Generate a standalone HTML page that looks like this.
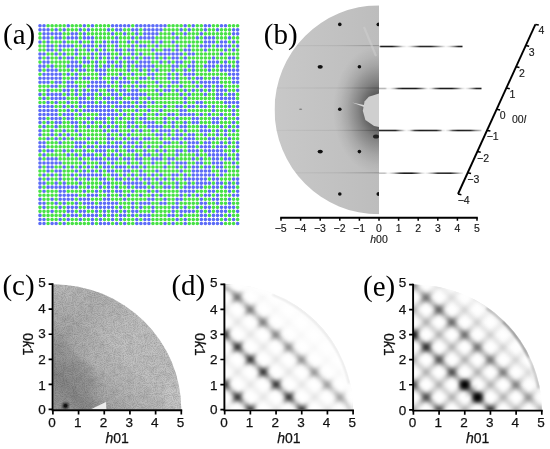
<!DOCTYPE html>
<html><head><meta charset="utf-8"><title>Figure</title>
<style>html,body{margin:0;padding:0;background:#fff;}body{width:550px;height:449px;position:relative;overflow:hidden;}</style>
</head><body>
<svg width="550" height="449" viewBox="0 0 550 449" style="position:absolute;left:0;top:0">
<defs><filter id="blur3" x="-20%" y="-20%" width="140%" height="140%"><feGaussianBlur stdDeviation="2.6"/></filter><filter id="rbl" x="-20%" y="-20%" width="140%" height="140%"><feGaussianBlur stdDeviation="0.8"/></filter><filter id="dblur" x="-2%" y="-2%" width="104%" height="104%"><feGaussianBlur stdDeviation="0.45"/></filter><filter id="nblur" x="-20%" y="-20%" width="140%" height="140%"><feGaussianBlur stdDeviation="2.3"/></filter>
<clipPath id="qc"><path d="M53.4 409.4 V284.15 A128.4 125.25 0 0 1 181.3 409.4 Z"/></clipPath>
<clipPath id="qd"><path d="M225.2 409.6 V284.35 A128.4 125.25 0 0 1 353.1 409.6 Z"/></clipPath>
<clipPath id="qe"><path d="M413.9 409.8 V284.55 A128.4 125.25 0 0 1 541.8 409.8 Z"/></clipPath>
</defs>
<g filter="url(#dblur)"><path d="M39.99 25.8h.01m4.02 0h.01m24.19 0h.01m16.13 0h.01m8.06 0h.01m20.16 0h.01m4.02 0h.01m4.02 0h.01m4.02 0h.01m4.02 0h.01m8.06 0h.01m4.02 0h.01m4.02 0h.01m4.02 0h.01m4.02 0h.01m4.02 0h.01m4.02 0h.01m4.02 0h.01m20.16 0h.01m8.06 0h.01m12.09 0h.01m4.02 0h.01m12.09 0h.01m4.02 0h.01M39.99 29.83h.01m4.02 0h.01m4.02 0h.01m8.06 0h.01m8.06 0h.01m16.13 0h.01m8.06 0h.01m20.16 0h.01m8.06 0h.01m4.02 0h.01m12.09 0h.01m4.02 0h.01m8.06 0h.01m4.02 0h.01m4.02 0h.01m4.02 0h.01m4.02 0h.01m20.16 0h.01m8.06 0h.01m16.13 0h.01m12.09 0h.01m16.13 0h.01m4.02 0h.01M44.03 33.87h.01m4.02 0h.01m4.02 0h.01m4.02 0h.01m4.02 0h.01m12.09 0h.01m4.02 0h.01m8.06 0h.01m28.23 0h.01m12.09 0h.01m12.09 0h.01m8.06 0h.01m4.02 0h.01m4.02 0h.01m4.02 0h.01m16.13 0h.01m12.09 0h.01m16.13 0h.01m32.26 0h.01m4.02 0h.01M44.03 37.9h.01m4.02 0h.01m8.06 0h.01m4.02 0h.01m8.06 0h.01m4.02 0h.01m4.02 0h.01m8.06 0h.01m4.02 0h.01m4.02 0h.01m24.19 0h.01m16.13 0h.01m8.06 0h.01m4.02 0h.01m4.02 0h.01m4.02 0h.01m24.19 0h.01m20.16 0h.01m8.06 0h.01m4.02 0h.01m4.02 0h.01m16.13 0h.01M39.99 41.94h.01m8.06 0h.01m16.13 0h.01m16.13 0h.01m12.09 0h.01m12.09 0h.01m8.06 0h.01m4.02 0h.01m12.09 0h.01m8.06 0h.01m16.13 0h.01m8.06 0h.01m12.09 0h.01m32.26 0h.01m4.02 0h.01m4.02 0h.01m8.06 0h.01m4.02 0h.01m8.06 0h.01M48.06 45.97h.01m4.02 0h.01m8.06 0h.01m4.02 0h.01m4.02 0h.01m4.02 0h.01m12.09 0h.01m4.02 0h.01m4.02 0h.01m8.06 0h.01m4.02 0h.01m12.09 0h.01m16.13 0h.01m8.06 0h.01m4.02 0h.01m12.09 0h.01m20.16 0h.01m12.09 0h.01m12.09 0h.01m4.02 0h.01m4.02 0h.01m8.06 0h.01m4.02 0h.01m4.02 0h.01m4.02 0h.01m8.06 0h.01M48.06 50h.01m4.02 0h.01m8.06 0h.01m16.13 0h.01m12.09 0h.01m8.06 0h.01m8.06 0h.01m12.09 0h.01m4.02 0h.01m8.06 0h.01m4.02 0h.01m20.16 0h.01m12.09 0h.01m4.02 0h.01m8.06 0h.01m8.06 0h.01m4.02 0h.01m16.13 0h.01m20.16 0h.01m8.06 0h.01M39.99 54.04h.01m4.02 0h.01m12.09 0h.01m8.06 0h.01m12.09 0h.01m16.13 0h.01m8.06 0h.01m4.02 0h.01m4.02 0h.01m12.09 0h.01m12.09 0h.01m8.06 0h.01m16.13 0h.01m4.02 0h.01m4.02 0h.01m4.02 0h.01m4.02 0h.01m4.02 0h.01m4.02 0h.01m8.06 0h.01m4.02 0h.01m28.23 0h.01M39.99 58.07h.01m8.06 0h.01m12.09 0h.01m8.06 0h.01m4.02 0h.01m12.09 0h.01m8.06 0h.01m8.06 0h.01m8.06 0h.01m8.06 0h.01m8.06 0h.01m4.02 0h.01m8.06 0h.01m8.06 0h.01m4.02 0h.01m8.06 0h.01m8.06 0h.01m8.06 0h.01m4.02 0h.01m8.06 0h.01m28.23 0h.01m16.13 0h.01m4.02 0h.01M44.03 62.11h.01m4.02 0h.01m24.19 0h.01m4.02 0h.01m8.06 0h.01m4.02 0h.01m8.06 0h.01m12.09 0h.01m4.02 0h.01m8.06 0h.01m8.06 0h.01m4.02 0h.01m8.06 0h.01m4.02 0h.01m4.02 0h.01m12.09 0h.01m8.06 0h.01m8.06 0h.01m4.02 0h.01m12.09 0h.01m16.13 0h.01m4.02 0h.01m4.02 0h.01m8.06 0h.01m12.09 0h.01M39.99 66.14h.01m4.02 0h.01m8.06 0h.01m16.13 0h.01m4.02 0h.01m4.02 0h.01m4.02 0h.01m16.13 0h.01m8.06 0h.01m4.02 0h.01m8.06 0h.01m4.02 0h.01m8.06 0h.01m8.06 0h.01m4.02 0h.01m4.02 0h.01m4.02 0h.01m4.02 0h.01m20.16 0h.01m4.02 0h.01m12.09 0h.01m4.02 0h.01m12.09 0h.01m4.02 0h.01m4.02 0h.01m8.06 0h.01m4.02 0h.01m4.02 0h.01m8.06 0h.01M39.99 70.17h.01m8.06 0h.01m4.02 0h.01m4.02 0h.01m16.13 0h.01m8.06 0h.01m4.02 0h.01m12.09 0h.01m4.02 0h.01m4.02 0h.01m24.19 0h.01m12.09 0h.01m8.06 0h.01m8.06 0h.01m16.13 0h.01m12.09 0h.01m8.06 0h.01m16.13 0h.01m12.09 0h.01m4.02 0h.01m4.02 0h.01m4.02 0h.01m4.02 0h.01M44.03 74.21h.01m4.02 0h.01m4.02 0h.01m4.02 0h.01m4.02 0h.01m8.06 0h.01m8.06 0h.01m24.19 0h.01m4.02 0h.01m16.13 0h.01m12.09 0h.01m16.13 0h.01m4.02 0h.01m16.13 0h.01m8.06 0h.01m8.06 0h.01m4.02 0h.01m4.02 0h.01m36.3 0h.01m4.02 0h.01m4.02 0h.01M39.99 78.24h.01m4.02 0h.01m4.02 0h.01m4.02 0h.01m4.02 0h.01m4.02 0h.01m12.09 0h.01m4.02 0h.01m8.06 0h.01m4.02 0h.01m12.09 0h.01m12.09 0h.01m4.02 0h.01m8.06 0h.01m16.13 0h.01m4.02 0h.01m8.06 0h.01m16.13 0h.01m8.06 0h.01m12.09 0h.01m8.06 0h.01m4.02 0h.01m12.09 0h.01m4.02 0h.01m16.13 0h.01m4.02 0h.01M39.99 82.28h.01m4.02 0h.01m4.02 0h.01m8.06 0h.01m4.02 0h.01m8.06 0h.01m4.02 0h.01m20.16 0h.01m4.02 0h.01m4.02 0h.01m4.02 0h.01m8.06 0h.01m8.06 0h.01m4.02 0h.01m4.02 0h.01m8.06 0h.01m20.16 0h.01m16.13 0h.01m4.02 0h.01m16.13 0h.01m8.06 0h.01m4.02 0h.01m4.02 0h.01m4.02 0h.01m4.02 0h.01m16.13 0h.01m4.02 0h.01M52.1 86.31h.01m4.02 0h.01m12.09 0h.01m4.02 0h.01m4.02 0h.01m12.09 0h.01m4.02 0h.01m4.02 0h.01m4.02 0h.01m4.02 0h.01m4.02 0h.01m12.09 0h.01m12.09 0h.01m8.06 0h.01m4.02 0h.01m16.13 0h.01m8.06 0h.01m12.09 0h.01m16.13 0h.01m8.06 0h.01m4.02 0h.01m8.06 0h.01m4.02 0h.01M48.06 90.34h.01m16.13 0h.01m4.02 0h.01m8.06 0h.01m8.06 0h.01m8.06 0h.01m4.02 0h.01m12.09 0h.01m4.02 0h.01m8.06 0h.01m4.02 0h.01m8.06 0h.01m4.02 0h.01m20.16 0h.01m8.06 0h.01m4.02 0h.01m8.06 0h.01m8.06 0h.01m8.06 0h.01m8.06 0h.01m8.06 0h.01m8.06 0h.01m4.02 0h.01m4.02 0h.01m12.09 0h.01M39.99 94.38h.01m8.06 0h.01m4.02 0h.01m4.02 0h.01m4.02 0h.01m8.06 0h.01m8.06 0h.01m8.06 0h.01m4.02 0h.01m4.02 0h.01m8.06 0h.01m12.09 0h.01m4.02 0h.01m8.06 0h.01m4.02 0h.01m4.02 0h.01m4.02 0h.01m4.02 0h.01m4.02 0h.01m16.13 0h.01m20.16 0h.01m8.06 0h.01m16.13 0h.01m12.09 0h.01m4.02 0h.01m8.06 0h.01m4.02 0h.01M44.03 98.41h.01m8.06 0h.01m4.02 0h.01m4.02 0h.01m4.02 0h.01m16.13 0h.01m4.02 0h.01m8.06 0h.01m12.09 0h.01m4.02 0h.01m8.06 0h.01m4.02 0h.01m12.09 0h.01m4.02 0h.01m12.09 0h.01m36.3 0h.01m32.26 0h.01m4.02 0h.01m4.02 0h.01m4.02 0h.01m4.02 0h.01M48.06 102.45h.01m8.06 0h.01m12.09 0h.01m12.09 0h.01m4.02 0h.01m4.02 0h.01m4.02 0h.01m8.06 0h.01m8.06 0h.01m4.02 0h.01m4.02 0h.01m8.06 0h.01m4.02 0h.01m8.06 0h.01m8.06 0h.01m8.06 0h.01m32.26 0h.01m12.09 0h.01m4.02 0h.01m24.19 0h.01m4.02 0h.01m4.02 0h.01m4.02 0h.01M39.99 106.48h.01m4.02 0h.01m4.02 0h.01m4.02 0h.01m12.09 0h.01m8.06 0h.01m8.06 0h.01m8.06 0h.01m4.02 0h.01m4.02 0h.01m4.02 0h.01m4.02 0h.01m4.02 0h.01m8.06 0h.01m4.02 0h.01m4.02 0h.01m4.02 0h.01m4.02 0h.01m8.06 0h.01m4.02 0h.01m20.16 0h.01m12.09 0h.01m4.02 0h.01m8.06 0h.01m4.02 0h.01m8.06 0h.01m4.02 0h.01m8.06 0h.01m16.13 0h.01m8.06 0h.01M39.99 110.51h.01m4.02 0h.01m4.02 0h.01m4.02 0h.01m4.02 0h.01m12.09 0h.01m8.06 0h.01m8.06 0h.01m4.02 0h.01m4.02 0h.01m4.02 0h.01m4.02 0h.01m4.02 0h.01m4.02 0h.01m4.02 0h.01m8.06 0h.01m16.13 0h.01m12.09 0h.01m12.09 0h.01m20.16 0h.01m4.02 0h.01m28.23 0h.01m20.16 0h.01M39.99 114.55h.01m4.02 0h.01m4.02 0h.01m4.02 0h.01m4.02 0h.01m8.06 0h.01m4.02 0h.01m4.02 0h.01m8.06 0h.01m20.16 0h.01m4.02 0h.01m4.02 0h.01m4.02 0h.01m4.02 0h.01m8.06 0h.01m8.06 0h.01m12.09 0h.01m12.09 0h.01m12.09 0h.01m4.02 0h.01m8.06 0h.01m4.02 0h.01m4.02 0h.01m4.02 0h.01m8.06 0h.01m8.06 0h.01m12.09 0h.01m12.09 0h.01M39.99 118.58h.01m4.02 0h.01m8.06 0h.01m4.02 0h.01m4.02 0h.01m8.06 0h.01m4.02 0h.01m16.13 0h.01m8.06 0h.01m4.02 0h.01m4.02 0h.01m8.06 0h.01m8.06 0h.01m12.09 0h.01m8.06 0h.01m4.02 0h.01m20.16 0h.01m12.09 0h.01m16.13 0h.01m4.02 0h.01m16.13 0h.01m4.02 0h.01m8.06 0h.01m12.09 0h.01M39.99 122.62h.01m8.06 0h.01m8.06 0h.01m4.02 0h.01m12.09 0h.01m4.02 0h.01m8.06 0h.01m8.06 0h.01m12.09 0h.01m8.06 0h.01m16.13 0h.01m4.02 0h.01m12.09 0h.01m4.02 0h.01m4.02 0h.01m12.09 0h.01m8.06 0h.01m12.09 0h.01m8.06 0h.01m4.02 0h.01m16.13 0h.01m4.02 0h.01m16.13 0h.01M44.03 126.65h.01m12.09 0h.01m20.16 0h.01m12.09 0h.01m12.09 0h.01m8.06 0h.01m8.06 0h.01m12.09 0h.01m8.06 0h.01m12.09 0h.01m4.02 0h.01m4.02 0h.01m4.02 0h.01m12.09 0h.01m8.06 0h.01m4.02 0h.01m16.13 0h.01m4.02 0h.01m16.13 0h.01m8.06 0h.01m8.06 0h.01M39.99 130.68h.01m12.09 0h.01m12.09 0h.01m12.09 0h.01m28.23 0h.01m8.06 0h.01m4.02 0h.01m16.13 0h.01m8.06 0h.01m12.09 0h.01m8.06 0h.01m4.02 0h.01m4.02 0h.01m8.06 0h.01m8.06 0h.01m16.13 0h.01m4.02 0h.01m4.02 0h.01m8.06 0h.01m8.06 0h.01m8.06 0h.01M39.99 134.72h.01m12.09 0h.01m8.06 0h.01m8.06 0h.01m12.09 0h.01m28.23 0h.01m12.09 0h.01m8.06 0h.01m28.23 0h.01m4.02 0h.01m8.06 0h.01m8.06 0h.01m4.02 0h.01m8.06 0h.01m4.02 0h.01m12.09 0h.01m12.09 0h.01m8.06 0h.01M48.06 138.75h.01m8.06 0h.01m8.06 0h.01m8.06 0h.01m16.13 0h.01m20.16 0h.01m4.02 0h.01m12.09 0h.01m8.06 0h.01m4.02 0h.01m8.06 0h.01m4.02 0h.01m12.09 0h.01m12.09 0h.01m4.02 0h.01m8.06 0h.01m4.02 0h.01m4.02 0h.01m16.13 0h.01m4.02 0h.01m16.13 0h.01M39.99 142.79h.01m4.02 0h.01m16.13 0h.01m16.13 0h.01m4.02 0h.01m4.02 0h.01m12.09 0h.01m12.09 0h.01m8.06 0h.01m4.02 0h.01m8.06 0h.01m4.02 0h.01m8.06 0h.01m24.19 0h.01m4.02 0h.01m12.09 0h.01m8.06 0h.01m4.02 0h.01m4.02 0h.01m8.06 0h.01m4.02 0h.01m12.09 0h.01m8.06 0h.01m8.06 0h.01M39.99 146.82h.01m4.02 0h.01m32.26 0h.01m4.02 0h.01m8.06 0h.01m4.02 0h.01m8.06 0h.01m4.02 0h.01m4.02 0h.01m4.02 0h.01m4.02 0h.01m8.06 0h.01m4.02 0h.01m8.06 0h.01m4.02 0h.01m8.06 0h.01m12.09 0h.01m28.23 0h.01m4.02 0h.01m8.06 0h.01m4.02 0h.01m4.02 0h.01m8.06 0h.01m4.02 0h.01m4.02 0h.01m12.09 0h.01M39.99 150.85h.01m8.06 0h.01m4.02 0h.01m12.09 0h.01m8.06 0h.01m12.09 0h.01m12.09 0h.01m4.02 0h.01m4.02 0h.01m12.09 0h.01m12.09 0h.01m4.02 0h.01m12.09 0h.01m12.09 0h.01m8.06 0h.01m12.09 0h.01m4.02 0h.01m8.06 0h.01m4.02 0h.01m4.02 0h.01m8.06 0h.01m4.02 0h.01m4.02 0h.01m4.02 0h.01m4.02 0h.01m12.09 0h.01M44.03 154.89h.01m24.19 0h.01m8.06 0h.01m8.06 0h.01m4.02 0h.01m4.02 0h.01m12.09 0h.01m8.06 0h.01m8.06 0h.01m16.13 0h.01m8.06 0h.01m4.02 0h.01m12.09 0h.01m16.13 0h.01m20.16 0h.01m12.09 0h.01m4.02 0h.01m4.02 0h.01m4.02 0h.01m4.02 0h.01m12.09 0h.01M39.99 158.92h.01m8.06 0h.01m4.02 0h.01m4.02 0h.01m24.19 0h.01m12.09 0h.01m4.02 0h.01m4.02 0h.01m8.06 0h.01m4.02 0h.01m4.02 0h.01m8.06 0h.01m4.02 0h.01m8.06 0h.01m4.02 0h.01m12.09 0h.01m4.02 0h.01m4.02 0h.01m8.06 0h.01m4.02 0h.01m20.16 0h.01m8.06 0h.01m12.09 0h.01m4.02 0h.01m8.06 0h.01m4.02 0h.01m8.06 0h.01M39.99 162.96h.01m4.02 0h.01m4.02 0h.01m4.02 0h.01m4.02 0h.01m4.02 0h.01m24.19 0h.01m16.13 0h.01m4.02 0h.01m8.06 0h.01m16.13 0h.01m12.09 0h.01m12.09 0h.01m16.13 0h.01m8.06 0h.01m4.02 0h.01m4.02 0h.01m12.09 0h.01m4.02 0h.01m12.09 0h.01m4.02 0h.01m4.02 0h.01m12.09 0h.01M39.99 166.99h.01m8.06 0h.01m4.02 0h.01m12.09 0h.01m8.06 0h.01m8.06 0h.01m8.06 0h.01m8.06 0h.01m8.06 0h.01m4.02 0h.01m8.06 0h.01m4.02 0h.01m4.02 0h.01m8.06 0h.01m4.02 0h.01m8.06 0h.01m20.16 0h.01m12.09 0h.01m8.06 0h.01m8.06 0h.01m4.02 0h.01m8.06 0h.01m4.02 0h.01m8.06 0h.01m4.02 0h.01m16.13 0h.01M48.06 171.02h.01m8.06 0h.01m4.02 0h.01m16.13 0h.01m8.06 0h.01m8.06 0h.01m8.06 0h.01m8.06 0h.01m4.02 0h.01m12.09 0h.01m4.02 0h.01m12.09 0h.01m16.13 0h.01m24.19 0h.01m12.09 0h.01m4.02 0h.01m4.02 0h.01m4.02 0h.01m4.02 0h.01m12.09 0h.01m4.02 0h.01M44.03 175.06h.01m8.06 0h.01m8.06 0h.01m12.09 0h.01m8.06 0h.01m4.02 0h.01m4.02 0h.01m4.02 0h.01m4.02 0h.01m4.02 0h.01m12.09 0h.01m4.02 0h.01m8.06 0h.01m8.06 0h.01m8.06 0h.01m4.02 0h.01m8.06 0h.01m8.06 0h.01m12.09 0h.01m4.02 0h.01m8.06 0h.01m8.06 0h.01m4.02 0h.01m4.02 0h.01m4.02 0h.01m4.02 0h.01m4.02 0h.01m8.06 0h.01M39.99 179.09h.01m8.06 0h.01m12.09 0h.01m16.13 0h.01m12.09 0h.01m12.09 0h.01m4.02 0h.01m12.09 0h.01m4.02 0h.01m8.06 0h.01m8.06 0h.01m8.06 0h.01m4.02 0h.01m8.06 0h.01m8.06 0h.01m8.06 0h.01m12.09 0h.01m4.02 0h.01m4.02 0h.01m4.02 0h.01m4.02 0h.01m4.02 0h.01m8.06 0h.01m4.02 0h.01m16.13 0h.01m4.02 0h.01M39.99 183.13h.01m4.02 0h.01m12.09 0h.01m8.06 0h.01m16.13 0h.01m24.19 0h.01m4.02 0h.01m16.13 0h.01m4.02 0h.01m4.02 0h.01m4.02 0h.01m4.02 0h.01m8.06 0h.01m12.09 0h.01m16.13 0h.01m12.09 0h.01m8.06 0h.01m4.02 0h.01m4.02 0h.01m4.02 0h.01m8.06 0h.01m4.02 0h.01m8.06 0h.01m8.06 0h.01M39.99 187.16h.01m8.06 0h.01m4.02 0h.01m4.02 0h.01m4.02 0h.01m4.02 0h.01m4.02 0h.01m4.02 0h.01m4.02 0h.01m12.09 0h.01m12.09 0h.01m8.06 0h.01m8.06 0h.01m12.09 0h.01m8.06 0h.01m4.02 0h.01m4.02 0h.01m8.06 0h.01m12.09 0h.01m4.02 0h.01m8.06 0h.01m8.06 0h.01m4.02 0h.01m4.02 0h.01m4.02 0h.01m4.02 0h.01m12.09 0h.01m4.02 0h.01m8.06 0h.01m4.02 0h.01m4.02 0h.01M44.03 191.19h.01m16.13 0h.01m4.02 0h.01m20.16 0h.01m12.09 0h.01m8.06 0h.01m4.02 0h.01m8.06 0h.01m4.02 0h.01m12.09 0h.01m16.13 0h.01m8.06 0h.01m24.19 0h.01m4.02 0h.01m4.02 0h.01m4.02 0h.01m16.13 0h.01m4.02 0h.01m16.13 0h.01m8.06 0h.01M60.16 195.23h.01m4.02 0h.01m4.02 0h.01m4.02 0h.01m4.02 0h.01m12.09 0h.01m4.02 0h.01m4.02 0h.01m12.09 0h.01m12.09 0h.01m8.06 0h.01m12.09 0h.01m12.09 0h.01m8.06 0h.01m20.16 0h.01m8.06 0h.01m8.06 0h.01m8.06 0h.01m4.02 0h.01m8.06 0h.01m16.13 0h.01m4.02 0h.01M39.99 199.26h.01m12.09 0h.01m8.06 0h.01m4.02 0h.01m4.02 0h.01m4.02 0h.01m8.06 0h.01m4.02 0h.01m4.02 0h.01m16.13 0h.01m4.02 0h.01m16.13 0h.01m24.19 0h.01m4.02 0h.01m12.09 0h.01m12.09 0h.01m4.02 0h.01m20.16 0h.01m12.09 0h.01m4.02 0h.01m12.09 0h.01M39.99 203.3h.01m4.02 0h.01m12.09 0h.01m8.06 0h.01m12.09 0h.01m8.06 0h.01m4.02 0h.01m4.02 0h.01m8.06 0h.01m4.02 0h.01m4.02 0h.01m4.02 0h.01m4.02 0h.01m16.13 0h.01m8.06 0h.01m4.02 0h.01m4.02 0h.01m12.09 0h.01m4.02 0h.01m12.09 0h.01m24.19 0h.01m4.02 0h.01m12.09 0h.01m12.09 0h.01M44.03 207.33h.01m16.13 0h.01m8.06 0h.01m4.02 0h.01m4.02 0h.01m12.09 0h.01m4.02 0h.01m4.02 0h.01m4.02 0h.01m4.02 0h.01m4.02 0h.01m4.02 0h.01m8.06 0h.01m12.09 0h.01m8.06 0h.01m12.09 0h.01m20.16 0h.01m4.02 0h.01m8.06 0h.01m12.09 0h.01m8.06 0h.01m4.02 0h.01m12.09 0h.01m4.02 0h.01m4.02 0h.01m4.02 0h.01M52.1 211.36h.01m16.13 0h.01m4.02 0h.01m8.06 0h.01m4.02 0h.01m12.09 0h.01m8.06 0h.01m8.06 0h.01m4.02 0h.01m8.06 0h.01m8.06 0h.01m4.02 0h.01m16.13 0h.01m20.16 0h.01m8.06 0h.01m4.02 0h.01m4.02 0h.01m4.02 0h.01m8.06 0h.01m8.06 0h.01m8.06 0h.01m4.02 0h.01m4.02 0h.01m12.09 0h.01M39.99 215.4h.01m24.19 0h.01m8.06 0h.01m4.02 0h.01m8.06 0h.01m4.02 0h.01m4.02 0h.01m4.02 0h.01m8.06 0h.01m8.06 0h.01m8.06 0h.01m4.02 0h.01m8.06 0h.01m8.06 0h.01m4.02 0h.01m4.02 0h.01m20.16 0h.01m4.02 0h.01m8.06 0h.01m20.16 0h.01m4.02 0h.01m8.06 0h.01m4.02 0h.01m4.02 0h.01m8.06 0h.01M39.99 219.43h.01m4.02 0h.01m16.13 0h.01m8.06 0h.01m12.09 0h.01m12.09 0h.01m8.06 0h.01m12.09 0h.01m8.06 0h.01m16.13 0h.01m8.06 0h.01m4.02 0h.01m28.23 0h.01m8.06 0h.01m16.13 0h.01m4.02 0h.01m4.02 0h.01m4.02 0h.01m4.02 0h.01m8.06 0h.01m8.06 0h.01M39.99 223.47h.01m4.02 0h.01m8.06 0h.01m4.02 0h.01m8.06 0h.01m28.23 0h.01m8.06 0h.01m4.02 0h.01m4.02 0h.01m8.06 0h.01m8.06 0h.01m12.09 0h.01m4.02 0h.01m4.02 0h.01m4.02 0h.01m16.13 0h.01m8.06 0h.01m12.09 0h.01m16.13 0h.01m4.02 0h.01m4.02 0h.01m4.02 0h.01m4.02 0h.01m4.02 0h.01m16.13 0h.01" stroke="#5b6cf7" stroke-width="3.6" stroke-linecap="round" fill="none"/>
<path d="M48.06 25.8h.01m4.02 0h.01m4.02 0h.01m4.02 0h.01m4.02 0h.01m8.06 0h.01m4.02 0h.01m4.02 0h.01m8.06 0h.01m8.06 0h.01m4.02 0h.01m4.02 0h.01m4.02 0h.01m24.19 0h.01m36.3 0h.01m4.02 0h.01m4.02 0h.01m4.02 0h.01m8.06 0h.01m8.06 0h.01m4.02 0h.01m12.09 0h.01m4.02 0h.01m12.09 0h.01m4.02 0h.01m4.02 0h.01M52.1 29.83h.01m8.06 0h.01m8.06 0h.01m4.02 0h.01m4.02 0h.01m8.06 0h.01m8.06 0h.01m4.02 0h.01m4.02 0h.01m4.02 0h.01m8.06 0h.01m12.09 0h.01m4.02 0h.01m12.09 0h.01m24.19 0h.01m4.02 0h.01m4.02 0h.01m4.02 0h.01m8.06 0h.01m8.06 0h.01m4.02 0h.01m4.02 0h.01m8.06 0h.01m4.02 0h.01m8.06 0h.01m4.02 0h.01m4.02 0h.01M39.99 33.87h.01m24.19 0h.01m4.02 0h.01m12.09 0h.01m8.06 0h.01m4.02 0h.01m4.02 0h.01m4.02 0h.01m4.02 0h.01m4.02 0h.01m8.06 0h.01m4.02 0h.01m8.06 0h.01m4.02 0h.01m8.06 0h.01m20.16 0h.01m4.02 0h.01m4.02 0h.01m8.06 0h.01m4.02 0h.01m8.06 0h.01m4.02 0h.01m4.02 0h.01m8.06 0h.01m4.02 0h.01m4.02 0h.01m4.02 0h.01m4.02 0h.01m4.02 0h.01m4.02 0h.01M39.99 37.9h.01m12.09 0h.01m12.09 0h.01m16.13 0h.01m16.13 0h.01m4.02 0h.01m4.02 0h.01m4.02 0h.01m4.02 0h.01m8.06 0h.01m4.02 0h.01m4.02 0h.01m8.06 0h.01m20.16 0h.01m4.02 0h.01m4.02 0h.01m4.02 0h.01m4.02 0h.01m8.06 0h.01m4.02 0h.01m4.02 0h.01m4.02 0h.01m8.06 0h.01m16.13 0h.01m4.02 0h.01m4.02 0h.01m8.06 0h.01m4.02 0h.01M44.03 41.94h.01m8.06 0h.01m4.02 0h.01m4.02 0h.01m8.06 0h.01m4.02 0h.01m4.02 0h.01m8.06 0h.01m4.02 0h.01m8.06 0h.01m4.02 0h.01m8.06 0h.01m12.09 0h.01m4.02 0h.01m8.06 0h.01m8.06 0h.01m4.02 0h.01m4.02 0h.01m8.06 0h.01m8.06 0h.01m4.02 0h.01m8.06 0h.01m4.02 0h.01m4.02 0h.01m4.02 0h.01m4.02 0h.01m4.02 0h.01m4.02 0h.01m16.13 0h.01m12.09 0h.01m8.06 0h.01M39.99 45.97h.01m4.02 0h.01m12.09 0h.01m20.16 0h.01m4.02 0h.01m16.13 0h.01m12.09 0h.01m4.02 0h.01m8.06 0h.01m4.02 0h.01m4.02 0h.01m8.06 0h.01m12.09 0h.01m4.02 0h.01m8.06 0h.01m4.02 0h.01m4.02 0h.01m4.02 0h.01m8.06 0h.01m4.02 0h.01m8.06 0h.01m4.02 0h.01m16.13 0h.01m20.16 0h.01M39.99 50h.01m4.02 0h.01m12.09 0h.01m8.06 0h.01m4.02 0h.01m4.02 0h.01m8.06 0h.01m4.02 0h.01m8.06 0h.01m8.06 0h.01m8.06 0h.01m4.02 0h.01m12.09 0h.01m12.09 0h.01m4.02 0h.01m4.02 0h.01m4.02 0h.01m8.06 0h.01m4.02 0h.01m12.09 0h.01m8.06 0h.01m12.09 0h.01m4.02 0h.01m4.02 0h.01m8.06 0h.01m4.02 0h.01m4.02 0h.01m4.02 0h.01m8.06 0h.01m8.06 0h.01M48.06 54.04h.01m4.02 0h.01m8.06 0h.01m8.06 0h.01m4.02 0h.01m8.06 0h.01m4.02 0h.01m4.02 0h.01m8.06 0h.01m16.13 0h.01m4.02 0h.01m8.06 0h.01m4.02 0h.01m8.06 0h.01m8.06 0h.01m4.02 0h.01m4.02 0h.01m32.26 0h.01m12.09 0h.01m4.02 0h.01m4.02 0h.01m4.02 0h.01m4.02 0h.01m4.02 0h.01m8.06 0h.01m4.02 0h.01m4.02 0h.01m4.02 0h.01M44.03 58.07h.01m8.06 0h.01m4.02 0h.01m8.06 0h.01m12.09 0h.01m4.02 0h.01m8.06 0h.01m8.06 0h.01m8.06 0h.01m8.06 0h.01m8.06 0h.01m12.09 0h.01m8.06 0h.01m12.09 0h.01m8.06 0h.01m8.06 0h.01m12.09 0h.01m8.06 0h.01m4.02 0h.01m4.02 0h.01m4.02 0h.01m4.02 0h.01m4.02 0h.01m8.06 0h.01m4.02 0h.01m4.02 0h.01m12.09 0h.01M39.99 62.11h.01m12.09 0h.01m4.02 0h.01m4.02 0h.01m4.02 0h.01m4.02 0h.01m12.09 0h.01m12.09 0h.01m8.06 0h.01m4.02 0h.01m12.09 0h.01m8.06 0h.01m12.09 0h.01m16.13 0h.01m4.02 0h.01m8.06 0h.01m8.06 0h.01m12.09 0h.01m4.02 0h.01m8.06 0h.01m4.02 0h.01m4.02 0h.01m16.13 0h.01m8.06 0h.01m4.02 0h.01M48.06 66.14h.01m8.06 0h.01m4.02 0h.01m4.02 0h.01m20.16 0h.01m4.02 0h.01m4.02 0h.01m8.06 0h.01m12.09 0h.01m12.09 0h.01m8.06 0h.01m24.19 0h.01m4.02 0h.01m4.02 0h.01m4.02 0h.01m12.09 0h.01m4.02 0h.01m12.09 0h.01m4.02 0h.01m16.13 0h.01m16.13 0h.01M44.03 70.17h.01m16.13 0h.01m4.02 0h.01m4.02 0h.01m8.06 0h.01m12.09 0h.01m4.02 0h.01m16.13 0h.01m4.02 0h.01m4.02 0h.01m4.02 0h.01m4.02 0h.01m8.06 0h.01m4.02 0h.01m8.06 0h.01m8.06 0h.01m8.06 0h.01m4.02 0h.01m4.02 0h.01m8.06 0h.01m4.02 0h.01m8.06 0h.01m8.06 0h.01m4.02 0h.01m4.02 0h.01m8.06 0h.01m4.02 0h.01M39.99 74.21h.01m24.19 0h.01m8.06 0h.01m8.06 0h.01m4.02 0h.01m4.02 0h.01m4.02 0h.01m4.02 0h.01m12.09 0h.01m4.02 0h.01m4.02 0h.01m8.06 0h.01m4.02 0h.01m8.06 0h.01m4.02 0h.01m4.02 0h.01m12.09 0h.01m4.02 0h.01m4.02 0h.01m8.06 0h.01m8.06 0h.01m16.13 0h.01m4.02 0h.01m4.02 0h.01m4.02 0h.01m4.02 0h.01m4.02 0h.01m4.02 0h.01m4.02 0h.01M64.2 78.24h.01m4.02 0h.01m12.09 0h.01m12.09 0h.01m4.02 0h.01m8.06 0h.01m4.02 0h.01m12.09 0h.01m8.06 0h.01m4.02 0h.01m4.02 0h.01m12.09 0h.01m8.06 0h.01m4.02 0h.01m4.02 0h.01m8.06 0h.01m8.06 0h.01m4.02 0h.01m8.06 0h.01m12.09 0h.01m4.02 0h.01m12.09 0h.01m4.02 0h.01m4.02 0h.01M52.1 82.28h.01m12.09 0h.01m12.09 0h.01m4.02 0h.01m4.02 0h.01m4.02 0h.01m20.16 0h.01m8.06 0h.01m16.13 0h.01m8.06 0h.01m4.02 0h.01m4.02 0h.01m4.02 0h.01m8.06 0h.01m4.02 0h.01m4.02 0h.01m12.09 0h.01m4.02 0h.01m4.02 0h.01m8.06 0h.01m24.19 0h.01m4.02 0h.01m4.02 0h.01M39.99 86.31h.01m4.02 0h.01m4.02 0h.01m12.09 0h.01m4.02 0h.01m16.13 0h.01m4.02 0h.01m28.23 0h.01m4.02 0h.01m8.06 0h.01m4.02 0h.01m8.06 0h.01m12.09 0h.01m4.02 0h.01m4.02 0h.01m8.06 0h.01m8.06 0h.01m4.02 0h.01m8.06 0h.01m4.02 0h.01m4.02 0h.01m8.06 0h.01m12.09 0h.01m12.09 0h.01m4.02 0h.01m4.02 0h.01m4.02 0h.01M39.99 90.34h.01m4.02 0h.01m8.06 0h.01m4.02 0h.01m4.02 0h.01m12.09 0h.01m8.06 0h.01m8.06 0h.01m12.09 0h.01m4.02 0h.01m12.09 0h.01m12.09 0h.01m12.09 0h.01m4.02 0h.01m4.02 0h.01m4.02 0h.01m8.06 0h.01m12.09 0h.01m8.06 0h.01m8.06 0h.01m8.06 0h.01m8.06 0h.01m8.06 0h.01m16.13 0h.01m4.02 0h.01M44.03 94.38h.01m20.16 0h.01m8.06 0h.01m8.06 0h.01m16.13 0h.01m8.06 0h.01m4.02 0h.01m12.09 0h.01m28.23 0h.01m4.02 0h.01m4.02 0h.01m8.06 0h.01m4.02 0h.01m4.02 0h.01m4.02 0h.01m8.06 0h.01m8.06 0h.01m4.02 0h.01m4.02 0h.01m8.06 0h.01m4.02 0h.01m12.09 0h.01m12.09 0h.01M39.99 98.41h.01m8.06 0h.01m20.16 0h.01m4.02 0h.01m4.02 0h.01m12.09 0h.01m8.06 0h.01m4.02 0h.01m12.09 0h.01m12.09 0h.01m4.02 0h.01m12.09 0h.01m4.02 0h.01m8.06 0h.01m4.02 0h.01m4.02 0h.01m4.02 0h.01m4.02 0h.01m4.02 0h.01m4.02 0h.01m4.02 0h.01m8.06 0h.01m4.02 0h.01m4.02 0h.01m4.02 0h.01m4.02 0h.01m4.02 0h.01m4.02 0h.01m24.19 0h.01M39.99 102.45h.01m4.02 0h.01m8.06 0h.01m8.06 0h.01m4.02 0h.01m8.06 0h.01m4.02 0h.01m20.16 0h.01m8.06 0h.01m16.13 0h.01m12.09 0h.01m8.06 0h.01m8.06 0h.01m8.06 0h.01m4.02 0h.01m4.02 0h.01m4.02 0h.01m4.02 0h.01m4.02 0h.01m4.02 0h.01m8.06 0h.01m4.02 0h.01m12.09 0h.01m4.02 0h.01m4.02 0h.01m4.02 0h.01m4.02 0h.01M56.13 106.48h.01m4.02 0h.01m8.06 0h.01m8.06 0h.01m8.06 0h.01m28.23 0h.01m24.19 0h.01m12.09 0h.01m4.02 0h.01m4.02 0h.01m4.02 0h.01m8.06 0h.01m4.02 0h.01m12.09 0h.01m12.09 0h.01m12.09 0h.01m8.06 0h.01m4.02 0h.01m4.02 0h.01m8.06 0h.01M60.16 110.51h.01m4.02 0h.01m8.06 0h.01m8.06 0h.01m36.3 0h.01m8.06 0h.01m4.02 0h.01m4.02 0h.01m8.06 0h.01m4.02 0h.01m8.06 0h.01m4.02 0h.01m8.06 0h.01m4.02 0h.01m4.02 0h.01m4.02 0h.01m12.09 0h.01m4.02 0h.01m4.02 0h.01m4.02 0h.01m4.02 0h.01m4.02 0h.01m8.06 0h.01m4.02 0h.01m4.02 0h.01m4.02 0h.01m8.06 0h.01M60.16 114.55h.01m16.13 0h.01m8.06 0h.01m4.02 0h.01m4.02 0h.01m4.02 0h.01m24.19 0h.01m8.06 0h.01m8.06 0h.01m4.02 0h.01m8.06 0h.01m4.02 0h.01m8.06 0h.01m4.02 0h.01m12.09 0h.01m20.16 0h.01m8.06 0h.01m8.06 0h.01m4.02 0h.01m8.06 0h.01m4.02 0h.01m8.06 0h.01M48.06 118.58h.01m16.13 0h.01m12.09 0h.01m4.02 0h.01m4.02 0h.01m8.06 0h.01m16.13 0h.01m8.06 0h.01m8.06 0h.01m4.02 0h.01m8.06 0h.01m12.09 0h.01m4.02 0h.01m4.02 0h.01m4.02 0h.01m8.06 0h.01m4.02 0h.01m8.06 0h.01m4.02 0h.01m4.02 0h.01m12.09 0h.01m4.02 0h.01m4.02 0h.01m12.09 0h.01m8.06 0h.01m4.02 0h.01M44.03 122.62h.01m8.06 0h.01m12.09 0h.01m4.02 0h.01m12.09 0h.01m8.06 0h.01m8.06 0h.01m4.02 0h.01m8.06 0h.01m8.06 0h.01m4.02 0h.01m4.02 0h.01m12.09 0h.01m4.02 0h.01m16.13 0h.01m4.02 0h.01m8.06 0h.01m8.06 0h.01m4.02 0h.01m8.06 0h.01m12.09 0h.01m4.02 0h.01m4.02 0h.01m12.09 0h.01m4.02 0h.01m4.02 0h.01m8.06 0h.01M39.99 126.65h.01m8.06 0h.01m4.02 0h.01m8.06 0h.01m4.02 0h.01m4.02 0h.01m4.02 0h.01m8.06 0h.01m4.02 0h.01m8.06 0h.01m4.02 0h.01m8.06 0h.01m8.06 0h.01m8.06 0h.01m4.02 0h.01m8.06 0h.01m8.06 0h.01m4.02 0h.01m20.16 0h.01m4.02 0h.01m8.06 0h.01m12.09 0h.01m4.02 0h.01m4.02 0h.01m12.09 0h.01m4.02 0h.01m4.02 0h.01m8.06 0h.01m8.06 0h.01M44.03 130.68h.01m4.02 0h.01m8.06 0h.01m4.02 0h.01m8.06 0h.01m4.02 0h.01m8.06 0h.01m4.02 0h.01m4.02 0h.01m4.02 0h.01m4.02 0h.01m4.02 0h.01m8.06 0h.01m12.09 0h.01m4.02 0h.01m4.02 0h.01m8.06 0h.01m8.06 0h.01m4.02 0h.01m8.06 0h.01m16.13 0h.01m8.06 0h.01m8.06 0h.01m4.02 0h.01m4.02 0h.01m16.13 0h.01m8.06 0h.01m8.06 0h.01m8.06 0h.01M44.03 134.72h.01m4.02 0h.01m8.06 0h.01m8.06 0h.01m8.06 0h.01m4.02 0h.01m8.06 0h.01m4.02 0h.01m4.02 0h.01m4.02 0h.01m4.02 0h.01m4.02 0h.01m8.06 0h.01m4.02 0h.01m8.06 0h.01m8.06 0h.01m4.02 0h.01m4.02 0h.01m4.02 0h.01m4.02 0h.01m4.02 0h.01m12.09 0h.01m8.06 0h.01m12.09 0h.01m12.09 0h.01m4.02 0h.01m8.06 0h.01m4.02 0h.01m8.06 0h.01m8.06 0h.01m4.02 0h.01m4.02 0h.01M39.99 138.75h.01m4.02 0h.01m8.06 0h.01m8.06 0h.01m8.06 0h.01m8.06 0h.01m4.02 0h.01m4.02 0h.01m8.06 0h.01m4.02 0h.01m4.02 0h.01m4.02 0h.01m12.09 0h.01m4.02 0h.01m8.06 0h.01m12.09 0h.01m12.09 0h.01m4.02 0h.01m8.06 0h.01m4.02 0h.01m12.09 0h.01m16.13 0h.01m4.02 0h.01m4.02 0h.01m12.09 0h.01m4.02 0h.01m4.02 0h.01m8.06 0h.01m4.02 0h.01M48.06 142.79h.01m4.02 0h.01m4.02 0h.01m8.06 0h.01m4.02 0h.01m4.02 0h.01m16.13 0h.01m4.02 0h.01m8.06 0h.01m4.02 0h.01m8.06 0h.01m12.09 0h.01m12.09 0h.01m8.06 0h.01m4.02 0h.01m4.02 0h.01m4.02 0h.01m4.02 0h.01m12.09 0h.01m4.02 0h.01m8.06 0h.01m16.13 0h.01m12.09 0h.01m4.02 0h.01m8.06 0h.01m8.06 0h.01M48.06 146.82h.01m4.02 0h.01m4.02 0h.01m4.02 0h.01m4.02 0h.01m4.02 0h.01m4.02 0h.01m12.09 0h.01m12.09 0h.01m24.19 0h.01m12.09 0h.01m12.09 0h.01m8.06 0h.01m4.02 0h.01m8.06 0h.01m4.02 0h.01m4.02 0h.01m4.02 0h.01m4.02 0h.01m4.02 0h.01m12.09 0h.01m16.13 0h.01m16.13 0h.01m4.02 0h.01M44.03 150.85h.01m12.09 0h.01m4.02 0h.01m8.06 0h.01m8.06 0h.01m4.02 0h.01m8.06 0h.01m4.02 0h.01m16.13 0h.01m4.02 0h.01m8.06 0h.01m4.02 0h.01m12.09 0h.01m4.02 0h.01m8.06 0h.01m4.02 0h.01m8.06 0h.01m8.06 0h.01m4.02 0h.01m12.09 0h.01m16.13 0h.01m24.19 0h.01m4.02 0h.01m8.06 0h.01M39.99 154.89h.01m8.06 0h.01m4.02 0h.01m4.02 0h.01m4.02 0h.01m4.02 0h.01m8.06 0h.01m8.06 0h.01m16.13 0h.01m4.02 0h.01m8.06 0h.01m8.06 0h.01m8.06 0h.01m4.02 0h.01m4.02 0h.01m8.06 0h.01m12.09 0h.01m4.02 0h.01m8.06 0h.01m4.02 0h.01m4.02 0h.01m8.06 0h.01m4.02 0h.01m4.02 0h.01m4.02 0h.01m8.06 0h.01m4.02 0h.01m24.19 0h.01m4.02 0h.01M44.03 158.92h.01m16.13 0h.01m4.02 0h.01m4.02 0h.01m4.02 0h.01m4.02 0h.01m8.06 0h.01m4.02 0h.01m16.13 0h.01m16.13 0h.01m12.09 0h.01m12.09 0h.01m4.02 0h.01m16.13 0h.01m12.09 0h.01m4.02 0h.01m4.02 0h.01m4.02 0h.01m8.06 0h.01m8.06 0h.01m4.02 0h.01m12.09 0h.01m12.09 0h.01M64.2 162.96h.01m4.02 0h.01m4.02 0h.01m4.02 0h.01m4.02 0h.01m8.06 0h.01m4.02 0h.01m4.02 0h.01m12.09 0h.01m8.06 0h.01m4.02 0h.01m4.02 0h.01m8.06 0h.01m4.02 0h.01m8.06 0h.01m4.02 0h.01m8.06 0h.01m4.02 0h.01m4.02 0h.01m8.06 0h.01m16.13 0h.01m4.02 0h.01m12.09 0h.01m4.02 0h.01m16.13 0h.01m4.02 0h.01m8.06 0h.01M44.03 166.99h.01m12.09 0h.01m4.02 0h.01m8.06 0h.01m8.06 0h.01m8.06 0h.01m8.06 0h.01m8.06 0h.01m12.09 0h.01m16.13 0h.01m12.09 0h.01m8.06 0h.01m4.02 0h.01m4.02 0h.01m4.02 0h.01m8.06 0h.01m4.02 0h.01m8.06 0h.01m8.06 0h.01m12.09 0h.01m12.09 0h.01m12.09 0h.01m4.02 0h.01m4.02 0h.01M39.99 171.02h.01m4.02 0h.01m8.06 0h.01m12.09 0h.01m4.02 0h.01m4.02 0h.01m8.06 0h.01m8.06 0h.01m8.06 0h.01m8.06 0h.01m12.09 0h.01m4.02 0h.01m12.09 0h.01m4.02 0h.01m8.06 0h.01m4.02 0h.01m4.02 0h.01m8.06 0h.01m4.02 0h.01m4.02 0h.01m4.02 0h.01m4.02 0h.01m8.06 0h.01m4.02 0h.01m24.19 0h.01m4.02 0h.01m12.09 0h.01m4.02 0h.01m4.02 0h.01M39.99 175.06h.01m8.06 0h.01m8.06 0h.01m8.06 0h.01m4.02 0h.01m8.06 0h.01m28.23 0h.01m4.02 0h.01m12.09 0h.01m8.06 0h.01m8.06 0h.01m12.09 0h.01m8.06 0h.01m8.06 0h.01m4.02 0h.01m12.09 0h.01m8.06 0h.01m28.23 0h.01m8.06 0h.01m4.02 0h.01m4.02 0h.01m4.02 0h.01M44.03 179.09h.01m8.06 0h.01m4.02 0h.01m8.06 0h.01m4.02 0h.01m4.02 0h.01m8.06 0h.01m4.02 0h.01m8.06 0h.01m4.02 0h.01m12.09 0h.01m4.02 0h.01m12.09 0h.01m8.06 0h.01m8.06 0h.01m12.09 0h.01m8.06 0h.01m8.06 0h.01m8.06 0h.01m4.02 0h.01m28.23 0h.01m12.09 0h.01m4.02 0h.01m4.02 0h.01M48.06 183.13h.01m4.02 0h.01m8.06 0h.01m8.06 0h.01m4.02 0h.01m4.02 0h.01m8.06 0h.01m4.02 0h.01m4.02 0h.01m4.02 0h.01m4.02 0h.01m12.09 0h.01m4.02 0h.01m4.02 0h.01m24.19 0h.01m8.06 0h.01m4.02 0h.01m8.06 0h.01m4.02 0h.01m4.02 0h.01m8.06 0h.01m4.02 0h.01m8.06 0h.01m20.16 0h.01m12.09 0h.01m8.06 0h.01M44.03 187.16h.01m36.3 0h.01m4.02 0h.01m8.06 0h.01m4.02 0h.01m8.06 0h.01m8.06 0h.01m8.06 0h.01m4.02 0h.01m8.06 0h.01m16.13 0h.01m8.06 0h.01m4.02 0h.01m12.09 0h.01m8.06 0h.01m24.19 0h.01m4.02 0h.01m12.09 0h.01m16.13 0h.01M39.99 191.19h.01m8.06 0h.01m4.02 0h.01m4.02 0h.01m12.09 0h.01m4.02 0h.01m4.02 0h.01m4.02 0h.01m8.06 0h.01m4.02 0h.01m8.06 0h.01m12.09 0h.01m12.09 0h.01m4.02 0h.01m8.06 0h.01m4.02 0h.01m4.02 0h.01m8.06 0h.01m8.06 0h.01m4.02 0h.01m4.02 0h.01m4.02 0h.01m4.02 0h.01m20.16 0h.01m4.02 0h.01m4.02 0h.01m12.09 0h.01m4.02 0h.01m4.02 0h.01m8.06 0h.01M39.99 195.23h.01m4.02 0h.01m4.02 0h.01m4.02 0h.01m4.02 0h.01m24.19 0h.01m4.02 0h.01m16.13 0h.01m4.02 0h.01m8.06 0h.01m4.02 0h.01m8.06 0h.01m8.06 0h.01m4.02 0h.01m8.06 0h.01m4.02 0h.01m8.06 0h.01m8.06 0h.01m4.02 0h.01m4.02 0h.01m4.02 0h.01m8.06 0h.01m8.06 0h.01m8.06 0h.01m12.09 0h.01m8.06 0h.01m4.02 0h.01m4.02 0h.01M44.03 199.26h.01m4.02 0h.01m8.06 0h.01m20.16 0h.01m16.13 0h.01m4.02 0h.01m4.02 0h.01m12.09 0h.01m4.02 0h.01m4.02 0h.01m8.06 0h.01m4.02 0h.01m4.02 0h.01m4.02 0h.01m4.02 0h.01m12.09 0h.01m4.02 0h.01m8.06 0h.01m4.02 0h.01m12.09 0h.01m4.02 0h.01m4.02 0h.01m4.02 0h.01m8.06 0h.01m4.02 0h.01m12.09 0h.01m4.02 0h.01m8.06 0h.01m4.02 0h.01M48.06 203.3h.01m4.02 0h.01m8.06 0h.01m8.06 0h.01m4.02 0h.01m8.06 0h.01m16.13 0h.01m24.19 0h.01m4.02 0h.01m4.02 0h.01m8.06 0h.01m16.13 0h.01m4.02 0h.01m12.09 0h.01m4.02 0h.01m8.06 0h.01m4.02 0h.01m4.02 0h.01m4.02 0h.01m4.02 0h.01m12.09 0h.01m4.02 0h.01m8.06 0h.01m4.02 0h.01m8.06 0h.01m4.02 0h.01M39.99 207.33h.01m8.06 0h.01m4.02 0h.01m4.02 0h.01m8.06 0h.01m16.13 0h.01m4.02 0h.01m32.26 0h.01m8.06 0h.01m4.02 0h.01m8.06 0h.01m8.06 0h.01m4.02 0h.01m8.06 0h.01m4.02 0h.01m4.02 0h.01m4.02 0h.01m12.09 0h.01m8.06 0h.01m4.02 0h.01m8.06 0h.01m12.09 0h.01m4.02 0h.01m20.16 0h.01M39.99 211.36h.01m4.02 0h.01m4.02 0h.01m8.06 0h.01m4.02 0h.01m4.02 0h.01m12.09 0h.01m12.09 0h.01m4.02 0h.01m8.06 0h.01m8.06 0h.01m12.09 0h.01m8.06 0h.01m12.09 0h.01m4.02 0h.01m4.02 0h.01m8.06 0h.01m4.02 0h.01m4.02 0h.01m4.02 0h.01m8.06 0h.01m20.16 0h.01m8.06 0h.01m8.06 0h.01m16.13 0h.01m4.02 0h.01M44.03 215.4h.01m4.02 0h.01m4.02 0h.01m4.02 0h.01m4.02 0h.01m8.06 0h.01m12.09 0h.01m20.16 0h.01m8.06 0h.01m8.06 0h.01m12.09 0h.01m8.06 0h.01m16.13 0h.01m4.02 0h.01m4.02 0h.01m4.02 0h.01m12.09 0h.01m8.06 0h.01m4.02 0h.01m4.02 0h.01m4.02 0h.01m12.09 0h.01m16.13 0h.01m8.06 0h.01m4.02 0h.01M48.06 219.43h.01m4.02 0h.01m4.02 0h.01m8.06 0h.01m8.06 0h.01m4.02 0h.01m8.06 0h.01m4.02 0h.01m8.06 0h.01m8.06 0h.01m4.02 0h.01m8.06 0h.01m8.06 0h.01m4.02 0h.01m4.02 0h.01m8.06 0h.01m12.09 0h.01m4.02 0h.01m4.02 0h.01m4.02 0h.01m4.02 0h.01m4.02 0h.01m8.06 0h.01m8.06 0h.01m4.02 0h.01m4.02 0h.01m24.19 0h.01m8.06 0h.01m8.06 0h.01M48.06 223.47h.01m12.09 0h.01m8.06 0h.01m4.02 0h.01m4.02 0h.01m4.02 0h.01m4.02 0h.01m4.02 0h.01m8.06 0h.01m16.13 0h.01m8.06 0h.01m8.06 0h.01m4.02 0h.01m20.16 0h.01m4.02 0h.01m4.02 0h.01m8.06 0h.01m8.06 0h.01m4.02 0h.01m8.06 0h.01m4.02 0h.01m4.02 0h.01m28.23 0h.01m4.02 0h.01m4.02 0h.01" stroke="#46e146" stroke-width="3.6" stroke-linecap="round" fill="none"/>
</g>
<defs><radialGradient id="bg" cx="379" cy="110" r="46" gradientUnits="userSpaceOnUse" gradientTransform="translate(379 110) scale(1 1.4) translate(-379 -110)"><stop offset="0" stop-color="#000" stop-opacity="0.66"/><stop offset="0.25" stop-color="#000" stop-opacity="0.52"/><stop offset="0.45" stop-color="#000" stop-opacity="0.32"/><stop offset="0.7" stop-color="#000" stop-opacity="0.13"/><stop offset="0.85" stop-color="#000" stop-opacity="0.05"/><stop offset="1" stop-color="#000" stop-opacity="0"/></radialGradient><linearGradient id="bbase" x1="0" x2="1" y1="0" y2="0"><stop offset="0" stop-color="#c8c8c8"/><stop offset="1" stop-color="#bdbdbd"/></linearGradient><linearGradient id="hl" x1="0" x2="1" y1="0" y2="0"><stop offset="0" stop-color="#000" stop-opacity="0.03"/><stop offset="0.6" stop-color="#000" stop-opacity="0.07"/><stop offset="1" stop-color="#000" stop-opacity="0.2"/></linearGradient><clipPath id="bclip"><path d="M379 5.35 A104.5 104.5 0 0 0 379 214.35 Z"/></clipPath></defs>
<g clip-path="url(#bclip)">
<rect x="274.5" y="5.35" width="104.5" height="209" fill="url(#bbase)"/>
<rect x="274.5" y="5.35" width="104.5" height="209" fill="url(#bg)"/>
<rect x="274.5" y="45" width="104.5" height="1.2" fill="url(#hl)"/>
<rect x="274.5" y="87.4" width="104.5" height="1.2" fill="url(#hl)"/>
<rect x="274.5" y="129.8" width="104.5" height="1.2" fill="url(#hl)"/>
<rect x="274.5" y="172.2" width="104.5" height="1.2" fill="url(#hl)"/>
<path d="M364 27 L376 56" stroke="#d0d0d0" stroke-width="2.2" opacity="0.5"/>
<circle cx="339.8" cy="24.4" r="1.8" fill="#111"/>
<ellipse cx="379" cy="24.4" rx="2.6" ry="1.9" fill="#111"/>
<ellipse cx="320.2" cy="66.8" rx="2.6" ry="1.9" fill="#111"/>
<circle cx="359.4" cy="66.8" r="1.8" fill="#111"/>
<circle cx="339.8" cy="109.2" r="1.8" fill="#111"/>
<ellipse cx="300.6" cy="109.2" rx="1.6" ry="0.8" fill="#555" opacity="0.6"/>
<ellipse cx="320.2" cy="151.6" rx="2.6" ry="1.9" fill="#111"/>
<circle cx="359.4" cy="151.6" r="1.8" fill="#111"/>
<circle cx="339.8" cy="194" r="1.8" fill="#111"/>
<ellipse cx="379" cy="194" rx="2.6" ry="1.9" fill="#111"/>
<ellipse cx="376" cy="136.5" rx="3" ry="2" fill="#222"/>
<path d="M379 93.4 L368.8 96.7 L364.5 101.4 L362.8 110.7 L365.4 120.1 L374.1 126.1 L379 127 Z" fill="#cfcfcf"/>
<path d="M352 102.4 L364 105 L364 107 Z" fill="#d6d6d6"/>
</g>
<defs><linearGradient id="st0" x1="0" x2="1" y1="0" y2="0"><stop offset="0" stop-color="#111" stop-opacity="0.6"/><stop offset="0.02" stop-color="#111" stop-opacity="0.95"/><stop offset="0.15" stop-color="#111" stop-opacity="0.95"/><stop offset="0.22" stop-color="#111" stop-opacity="0.55"/><stop offset="0.28" stop-color="#111" stop-opacity="0.15"/><stop offset="0.33" stop-color="#111" stop-opacity="0.03"/><stop offset="0.37" stop-color="#111" stop-opacity="0.15"/><stop offset="0.43" stop-color="#111" stop-opacity="0.5"/><stop offset="0.49" stop-color="#111" stop-opacity="0.9"/><stop offset="0.62" stop-color="#111" stop-opacity="0.9"/><stop offset="0.7" stop-color="#111" stop-opacity="0.5"/><stop offset="0.77" stop-color="#111" stop-opacity="0.15"/><stop offset="0.8" stop-color="#111" stop-opacity="0.03"/><stop offset="0.84" stop-color="#111" stop-opacity="0.15"/><stop offset="0.9" stop-color="#111" stop-opacity="0.5"/><stop offset="0.95" stop-color="#111" stop-opacity="0.9"/><stop offset="0.99" stop-color="#111" stop-opacity="0.95"/><stop offset="1" stop-color="#111" stop-opacity="0.95"/></linearGradient><linearGradient id="st1" x1="0" x2="1" y1="0" y2="0"><stop offset="0" stop-color="#111" stop-opacity="0.3"/><stop offset="0.06" stop-color="#111" stop-opacity="0.3"/><stop offset="0.08" stop-color="#111" stop-opacity="0.05"/><stop offset="0.11" stop-color="#111" stop-opacity="0.05"/><stop offset="0.15" stop-color="#111" stop-opacity="0.3"/><stop offset="0.19" stop-color="#111" stop-opacity="0.75"/><stop offset="0.23" stop-color="#111" stop-opacity="0.95"/><stop offset="0.36" stop-color="#111" stop-opacity="0.95"/><stop offset="0.41" stop-color="#111" stop-opacity="0.6"/><stop offset="0.46" stop-color="#111" stop-opacity="0.15"/><stop offset="0.48" stop-color="#111" stop-opacity="0.03"/><stop offset="0.51" stop-color="#111" stop-opacity="0.15"/><stop offset="0.55" stop-color="#111" stop-opacity="0.6"/><stop offset="0.6" stop-color="#111" stop-opacity="0.95"/><stop offset="0.71" stop-color="#111" stop-opacity="0.95"/><stop offset="0.76" stop-color="#111" stop-opacity="0.6"/><stop offset="0.81" stop-color="#111" stop-opacity="0.15"/><stop offset="0.84" stop-color="#111" stop-opacity="0.03"/><stop offset="0.87" stop-color="#111" stop-opacity="0.15"/><stop offset="0.91" stop-color="#111" stop-opacity="0.5"/><stop offset="0.95" stop-color="#111" stop-opacity="0.9"/><stop offset="1" stop-color="#111" stop-opacity="0.95"/></linearGradient><linearGradient id="st2" x1="0" x2="1" y1="0" y2="0"><stop offset="0" stop-color="#111" stop-opacity="0.9"/><stop offset="0.16" stop-color="#111" stop-opacity="0.9"/><stop offset="0.2" stop-color="#111" stop-opacity="0.5"/><stop offset="0.22" stop-color="#111" stop-opacity="0.35"/><stop offset="0.25" stop-color="#111" stop-opacity="0.1"/><stop offset="0.27" stop-color="#111" stop-opacity="0.03"/><stop offset="0.3" stop-color="#111" stop-opacity="0.15"/><stop offset="0.35" stop-color="#111" stop-opacity="0.8"/><stop offset="0.4" stop-color="#111" stop-opacity="0.95"/><stop offset="0.56" stop-color="#111" stop-opacity="0.9"/><stop offset="0.6" stop-color="#111" stop-opacity="0.5"/><stop offset="0.62" stop-color="#111" stop-opacity="0.1"/><stop offset="0.65" stop-color="#111" stop-opacity="0.03"/><stop offset="0.68" stop-color="#111" stop-opacity="0.2"/><stop offset="0.72" stop-color="#111" stop-opacity="0.7"/><stop offset="0.77" stop-color="#111" stop-opacity="0.95"/><stop offset="0.89" stop-color="#111" stop-opacity="0.9"/><stop offset="0.94" stop-color="#111" stop-opacity="0.5"/><stop offset="0.98" stop-color="#111" stop-opacity="0.3"/><stop offset="1" stop-color="#111" stop-opacity="0.2"/></linearGradient><linearGradient id="st3" x1="0" x2="1" y1="0" y2="0"><stop offset="0" stop-color="#111" stop-opacity="0.25"/><stop offset="0.07" stop-color="#111" stop-opacity="0.25"/><stop offset="0.1" stop-color="#111" stop-opacity="0.05"/><stop offset="0.12" stop-color="#111" stop-opacity="0.05"/><stop offset="0.18" stop-color="#111" stop-opacity="0.3"/><stop offset="0.25" stop-color="#111" stop-opacity="0.8"/><stop offset="0.3" stop-color="#111" stop-opacity="0.95"/><stop offset="0.39" stop-color="#111" stop-opacity="0.95"/><stop offset="0.45" stop-color="#111" stop-opacity="0.6"/><stop offset="0.51" stop-color="#111" stop-opacity="0.15"/><stop offset="0.55" stop-color="#111" stop-opacity="0.03"/><stop offset="0.58" stop-color="#111" stop-opacity="0.1"/><stop offset="0.64" stop-color="#111" stop-opacity="0.4"/><stop offset="0.7" stop-color="#111" stop-opacity="0.85"/><stop offset="0.85" stop-color="#111" stop-opacity="0.9"/><stop offset="0.9" stop-color="#111" stop-opacity="0.6"/><stop offset="0.96" stop-color="#111" stop-opacity="0.25"/><stop offset="1" stop-color="#111" stop-opacity="0.1"/></linearGradient></defs>
<rect x="379.5" y="45.7" width="83" height="1.6" fill="url(#st0)"/>
<rect x="379" y="87.7" width="102.5" height="1.6" fill="url(#st1)"/>
<rect x="379" y="129.7" width="102.5" height="1.6" fill="url(#st2)"/>
<rect x="379" y="172.4" width="84" height="1.6" fill="url(#st3)"/>
<path d="M535.4 24.4 L458 194" stroke="#000" stroke-width="1.9" fill="none"/>
<path d="M535.4 24.4l3.4 0.7M525.73 45.6l3.4 0.7M516.05 66.8l3.4 0.7M506.38 88l3.4 0.7M496.7 109.2l3.4 0.7M487.02 130.4l3.4 0.7M477.35 151.6l3.4 0.7M467.67 172.8l3.4 0.7M458 194l3.4 0.7" stroke="#000" stroke-width="1.5" fill="none"/>
<path d="M280.2 217.8H477.8" stroke="#000" stroke-width="1.9" fill="none"/>
<path d="M281 217.8v3M300.6 217.8v3M320.2 217.8v3M339.8 217.8v3M359.4 217.8v3M379 217.8v3M398.6 217.8v3M418.2 217.8v3M437.8 217.8v3M457.4 217.8v3M477 217.8v3" stroke="#000" stroke-width="1.5" fill="none"/>
<defs><linearGradient id="cg" gradientUnits="userSpaceOnUse" x1="52.9" y1="409.4" x2="115.9" y2="346.4"><stop offset="0" stop-color="#969696"/><stop offset="0.15" stop-color="#959595"/><stop offset="0.3" stop-color="#8a8a8a"/><stop offset="0.42" stop-color="#9c9c9c"/><stop offset="0.5" stop-color="#aaaaaa"/><stop offset="0.62" stop-color="#b0b0b0"/><stop offset="0.72" stop-color="#b8b8b8"/><stop offset="0.86" stop-color="#bababa"/><stop offset="1" stop-color="#c2c2c2"/></linearGradient><linearGradient id="cg2" gradientUnits="userSpaceOnUse" x1="52.9" y1="284.4" x2="112.9" y2="344.4"><stop offset="0" stop-color="#000" stop-opacity="0.02"/><stop offset="0.5" stop-color="#000" stop-opacity="0.08"/><stop offset="1" stop-color="#000" stop-opacity="0"/></linearGradient><filter id="cnoise" x="0" y="0" width="100%" height="100%"><feTurbulence type="fractalNoise" baseFrequency="0.9" numOctaves="1" seed="11"/><feColorMatrix type="matrix" values="0 0 0 0 0  0 0 0 0 0  0 0 0 0 0  1.1 0 0 0 -0.42"/></filter><filter id="cnoise2" x="0" y="0" width="100%" height="100%"><feTurbulence type="fractalNoise" baseFrequency="0.18" numOctaves="2" seed="4"/><feColorMatrix type="matrix" values="0 0 0 0 0  0 0 0 0 0  0 0 0 0 0  1.4 0 0 0 -0.55"/></filter><filter id="cbl" x="-50%" y="-50%" width="200%" height="200%"><feGaussianBlur stdDeviation="4"/></filter></defs>
<g clip-path="url(#qc)">
<rect x="52.9" y="281.4" width="130" height="130" fill="url(#cg)"/>
<rect x="52.9" y="281.4" width="130" height="130" fill="url(#cg2)"/>
<g filter="url(#cbl)" fill="#000"><ellipse cx="80.9" cy="373.4" rx="9" ry="22" transform="rotate(-45 80.9 373.4)" opacity="0.12"/><ellipse cx="60.9" cy="347.4" rx="7" ry="9" opacity="0.08"/></g>
<path d="M165.9 380.9 L180.9 377.9 L182.9 409.4 L163.9 409.4 Z" fill="#fff" opacity="0.12"/>
<rect x="52.9" y="281.4" width="130" height="130" filter="url(#cnoise)" opacity="0.35"/>
<rect x="52.9" y="281.4" width="130" height="130" filter="url(#cnoise2)" opacity="0.12"/>
<path d="M90.4 409.4 L105.9 401.9 L106.4 409.4 Z" fill="#ececec"/>
<circle cx="65.5" cy="405.8" r="3.2" fill="#222" opacity="0.9" filter="url(#rbl)"/>
<circle cx="65.5" cy="405.8" r="1.8" fill="#111"/>
</g>
<g clip-path="url(#qd)">
<rect x="224.7" y="281.6" width="130" height="130" fill="#fff"/>
<g filter="url(#blur3)"><path d="M250.38 434.65L-6.42 184.15" stroke="#000" stroke-width="4" opacity="0.08"/><path d="M276.06 434.65L19.26 184.15" stroke="#000" stroke-width="4" opacity="0.34"/><path d="M301.74 434.65L44.94 184.15" stroke="#000" stroke-width="4" opacity="0.08"/><path d="M327.42 434.65L70.62 184.15" stroke="#000" stroke-width="4" opacity="0.34"/><path d="M353.1 434.65L96.3 184.15" stroke="#000" stroke-width="4" opacity="0.08"/><path d="M378.78 434.65L121.98 184.15" stroke="#000" stroke-width="4" opacity="0.34"/><path d="M404.46 434.65L147.66 184.15" stroke="#000" stroke-width="4" opacity="0.08"/><path d="M430.14 434.65L173.34 184.15" stroke="#000" stroke-width="4" opacity="0.34"/><path d="M455.82 434.65L199.02 184.15" stroke="#000" stroke-width="4" opacity="0.08"/><path d="M481.5 434.65L224.7 184.15" stroke="#000" stroke-width="4" opacity="0.34"/><path d="M507.18 434.65L250.38 184.15" stroke="#000" stroke-width="4" opacity="0.08"/><path d="M44.94 434.65L301.74 184.15" stroke="#000" stroke-width="3" opacity="0.1"/><path d="M70.62 434.65L327.42 184.15" stroke="#000" stroke-width="3" opacity="0.1"/><path d="M96.3 434.65L353.1 184.15" stroke="#000" stroke-width="3" opacity="0.1"/><path d="M121.98 434.65L378.78 184.15" stroke="#000" stroke-width="3" opacity="0.1"/><path d="M147.66 434.65L404.46 184.15" stroke="#000" stroke-width="3" opacity="0.1"/><path d="M173.34 434.65L430.14 184.15" stroke="#000" stroke-width="3" opacity="0.1"/><path d="M199.02 434.65L455.82 184.15" stroke="#000" stroke-width="3" opacity="0.1"/><path d="M224.7 434.65L481.5 184.15" stroke="#000" stroke-width="3" opacity="0.1"/><path d="M250.38 434.65L507.18 184.15" stroke="#000" stroke-width="3" opacity="0.1"/><path d="M276.06 434.65L532.86 184.15" stroke="#000" stroke-width="3" opacity="0.1"/><path d="M301.74 434.65L558.54 184.15" stroke="#000" stroke-width="3" opacity="0.1"/><path d="M327.42 434.65L584.22 184.15" stroke="#000" stroke-width="3" opacity="0.1"/><path d="M353.1 434.65L609.9 184.15" stroke="#000" stroke-width="3" opacity="0.1"/></g>
<g filter="url(#nblur)"><g opacity="0.88"><circle cx="224.7" cy="384.55" r="2.7"/><path d="M220.2 380.05l9 9M220.2 389.05l9 -9" stroke="#000" stroke-width="2.3"/></g><g opacity="0.88"><circle cx="237.54" cy="397.08" r="2.7"/><path d="M233.04 392.58l9 9M233.04 401.58l9 -9" stroke="#000" stroke-width="2.3"/></g><g opacity="0.88"><circle cx="250.38" cy="409.6" r="2.7"/><path d="M245.88 405.1l9 9M245.88 414.1l9 -9" stroke="#000" stroke-width="2.3"/></g><g opacity="0.88"><circle cx="224.7" cy="334.45" r="2.7"/><path d="M220.2 329.95l9 9M220.2 338.95l9 -9" stroke="#000" stroke-width="2.3"/></g><g opacity="0.88"><circle cx="237.54" cy="346.98" r="2.7"/><path d="M233.04 342.48l9 9M233.04 351.48l9 -9" stroke="#000" stroke-width="2.3"/></g><g opacity="0.88"><circle cx="250.38" cy="359.5" r="2.7"/><path d="M245.88 355l9 9M245.88 364l9 -9" stroke="#000" stroke-width="2.3"/></g><g opacity="0.88"><circle cx="263.22" cy="372.03" r="2.7"/><path d="M258.72 367.53l9 9M258.72 376.53l9 -9" stroke="#000" stroke-width="2.3"/></g><g opacity="0.88"><circle cx="276.06" cy="384.55" r="2.7"/><path d="M271.56 380.05l9 9M271.56 389.05l9 -9" stroke="#000" stroke-width="2.3"/></g><g opacity="0.88"><circle cx="288.9" cy="397.08" r="2.7"/><path d="M284.4 392.58l9 9M284.4 401.58l9 -9" stroke="#000" stroke-width="2.3"/></g><g opacity="0.88"><circle cx="301.74" cy="409.6" r="2.7"/><path d="M297.24 405.1l9 9M297.24 414.1l9 -9" stroke="#000" stroke-width="2.3"/></g><g opacity="0.75"><circle cx="224.7" cy="284.35" r="2.7"/><path d="M220.2 279.85l9 9M220.2 288.85l9 -9" stroke="#000" stroke-width="2.3"/></g><g opacity="0.71"><circle cx="237.54" cy="296.88" r="2.7"/><path d="M233.04 292.38l9 9M233.04 301.38l9 -9" stroke="#000" stroke-width="2.3"/></g><g opacity="0.68"><circle cx="250.38" cy="309.4" r="2.7"/><path d="M245.88 304.9l9 9M245.88 313.9l9 -9" stroke="#000" stroke-width="2.3"/></g><g opacity="0.65"><circle cx="263.22" cy="321.93" r="2.7"/><path d="M258.72 317.43l9 9M258.72 326.43l9 -9" stroke="#000" stroke-width="2.3"/></g><g opacity="0.61"><circle cx="276.06" cy="334.45" r="2.7"/><path d="M271.56 329.95l9 9M271.56 338.95l9 -9" stroke="#000" stroke-width="2.3"/></g><g opacity="0.57"><circle cx="288.9" cy="346.98" r="2.7"/><path d="M284.4 342.48l9 9M284.4 351.48l9 -9" stroke="#000" stroke-width="2.3"/></g><g opacity="0.54"><circle cx="301.74" cy="359.5" r="2.7"/><path d="M297.24 355l9 9M297.24 364l9 -9" stroke="#000" stroke-width="2.3"/></g><g opacity="0.51"><circle cx="314.58" cy="372.03" r="2.7"/><path d="M310.08 367.53l9 9M310.08 376.53l9 -9" stroke="#000" stroke-width="2.3"/></g><g opacity="0.47"><circle cx="327.42" cy="384.55" r="2.7"/><path d="M322.92 380.05l9 9M322.92 389.05l9 -9" stroke="#000" stroke-width="2.3"/></g><g opacity="0.43"><circle cx="340.26" cy="397.08" r="2.7"/><path d="M335.76 392.58l9 9M335.76 401.58l9 -9" stroke="#000" stroke-width="2.3"/></g><g opacity="0.4"><circle cx="353.1" cy="409.6" r="2.7"/><path d="M348.6 405.1l9 9M348.6 414.1l9 -9" stroke="#000" stroke-width="2.3"/></g></g>
<defs><linearGradient id="ufd" gradientUnits="userSpaceOnUse" x1="224.7" y1="409.6" x2="353.1" y2="284.35"><stop offset="0" stop-color="#fff" stop-opacity="0"/><stop offset="0.44" stop-color="#fff" stop-opacity="0"/><stop offset="0.54" stop-color="#fff" stop-opacity="0.45"/><stop offset="0.62" stop-color="#fff" stop-opacity="0.8"/><stop offset="0.7" stop-color="#fff" stop-opacity="0.9"/><stop offset="1" stop-color="#fff" stop-opacity="0.9"/></linearGradient></defs>
<rect x="224.7" y="283.35" width="129.4" height="126.25" fill="url(#ufd)"/>
<defs><radialGradient id="fdd" gradientUnits="userSpaceOnUse" cx="224.7" cy="409.6" r="128.4" gradientTransform="translate(224.7 409.6) scale(1 0.9755) translate(-224.7 -409.6)"><stop offset="0.95" stop-color="#fff" stop-opacity="0"/><stop offset="0.99" stop-color="#fff" stop-opacity="0.7"/><stop offset="1" stop-color="#fff" stop-opacity="0.7"/></radialGradient></defs>
<rect x="224.7" y="283.35" width="129.4" height="126.25" fill="url(#fdd)"/>
<path d="M349.32 383.77A127.4 124.25 0 0 0 272.42 294.4" stroke="#000" stroke-width="2.2" fill="none" opacity="0.09" filter="url(#rbl)"/>
</g>
<g clip-path="url(#qe)">
<rect x="413.4" y="281.8" width="130" height="130" fill="#fff"/>
<g filter="url(#blur3)"><path d="M439.08 434.85L182.28 184.35" stroke="#000" stroke-width="3.8" opacity="0.26"/><path d="M464.76 434.85L207.96 184.35" stroke="#000" stroke-width="3.8" opacity="0.4"/><path d="M490.44 434.85L233.64 184.35" stroke="#000" stroke-width="3.8" opacity="0.26"/><path d="M516.12 434.85L259.32 184.35" stroke="#000" stroke-width="3.8" opacity="0.4"/><path d="M541.8 434.85L285 184.35" stroke="#000" stroke-width="3.8" opacity="0.26"/><path d="M567.48 434.85L310.68 184.35" stroke="#000" stroke-width="3.8" opacity="0.4"/><path d="M593.16 434.85L336.36 184.35" stroke="#000" stroke-width="3.8" opacity="0.26"/><path d="M618.84 434.85L362.04 184.35" stroke="#000" stroke-width="3.8" opacity="0.4"/><path d="M644.52 434.85L387.72 184.35" stroke="#000" stroke-width="3.8" opacity="0.26"/><path d="M670.2 434.85L413.4 184.35" stroke="#000" stroke-width="3.8" opacity="0.4"/><path d="M695.88 434.85L439.08 184.35" stroke="#000" stroke-width="3.8" opacity="0.26"/><path d="M233.64 434.85L490.44 184.35" stroke="#000" stroke-width="3.8" opacity="0.28"/><path d="M259.32 434.85L516.12 184.35" stroke="#000" stroke-width="3.8" opacity="0.28"/><path d="M285 434.85L541.8 184.35" stroke="#000" stroke-width="3.8" opacity="0.28"/><path d="M310.68 434.85L567.48 184.35" stroke="#000" stroke-width="3.8" opacity="0.28"/><path d="M336.36 434.85L593.16 184.35" stroke="#000" stroke-width="3.8" opacity="0.28"/><path d="M362.04 434.85L618.84 184.35" stroke="#000" stroke-width="3.8" opacity="0.28"/><path d="M387.72 434.85L644.52 184.35" stroke="#000" stroke-width="3.8" opacity="0.28"/><path d="M413.4 434.85L670.2 184.35" stroke="#000" stroke-width="3.8" opacity="0.28"/><path d="M439.08 434.85L695.88 184.35" stroke="#000" stroke-width="3.8" opacity="0.28"/><path d="M464.76 434.85L721.56 184.35" stroke="#000" stroke-width="3.8" opacity="0.28"/><path d="M490.44 434.85L747.24 184.35" stroke="#000" stroke-width="3.8" opacity="0.28"/><path d="M516.12 434.85L772.92 184.35" stroke="#000" stroke-width="3.8" opacity="0.28"/><path d="M541.8 434.85L798.6 184.35" stroke="#000" stroke-width="3.8" opacity="0.28"/></g>
<g filter="url(#nblur)"><g opacity="0.6"><circle cx="413.4" cy="384.75" r="3"/><path d="M408.9 380.25l9 9M408.9 389.25l9 -9" stroke="#000" stroke-width="2.4"/></g><g opacity="0.6"><circle cx="426.24" cy="397.28" r="3"/><path d="M421.74 392.78l9 9M421.74 401.78l9 -9" stroke="#000" stroke-width="2.4"/></g><g opacity="0.6"><circle cx="439.08" cy="409.8" r="3"/><path d="M434.58 405.3l9 9M434.58 414.3l9 -9" stroke="#000" stroke-width="2.4"/></g><g opacity="0.9"><circle cx="413.4" cy="334.65" r="4"/><path d="M408.9 330.15l9 9M408.9 339.15l9 -9" stroke="#000" stroke-width="2.4"/></g><g opacity="0.8"><circle cx="426.24" cy="347.18" r="3.2"/><path d="M421.74 342.68l9 9M421.74 351.68l9 -9" stroke="#000" stroke-width="2.4"/></g><g opacity="0.55"><circle cx="439.08" cy="359.7" r="3"/><path d="M434.58 355.2l9 9M434.58 364.2l9 -9" stroke="#000" stroke-width="2.4"/></g><g opacity="0.6"><circle cx="451.92" cy="372.23" r="3"/><path d="M447.42 367.73l9 9M447.42 376.73l9 -9" stroke="#000" stroke-width="2.4"/></g><g opacity="1"><circle cx="464.76" cy="384.75" r="5.2"/><path d="M460.26 380.25l9 9M460.26 389.25l9 -9" stroke="#000" stroke-width="2.4"/></g><g opacity="1"><circle cx="477.6" cy="397.28" r="5.2"/><path d="M473.1 392.78l9 9M473.1 401.78l9 -9" stroke="#000" stroke-width="2.4"/></g><g opacity="0.8"><circle cx="490.44" cy="409.8" r="3.2"/><path d="M485.94 405.3l9 9M485.94 414.3l9 -9" stroke="#000" stroke-width="2.4"/></g><g opacity="0.62"><circle cx="413.4" cy="284.55" r="3"/><path d="M408.9 280.05l9 9M408.9 289.05l9 -9" stroke="#000" stroke-width="2.4"/></g><g opacity="0.59"><circle cx="426.24" cy="297.07" r="3"/><path d="M421.74 292.57l9 9M421.74 301.57l9 -9" stroke="#000" stroke-width="2.4"/></g><g opacity="0.56"><circle cx="439.08" cy="309.6" r="3"/><path d="M434.58 305.1l9 9M434.58 314.1l9 -9" stroke="#000" stroke-width="2.4"/></g><g opacity="0.53"><circle cx="451.92" cy="322.12" r="3"/><path d="M447.42 317.62l9 9M447.42 326.62l9 -9" stroke="#000" stroke-width="2.4"/></g><g opacity="0.5"><circle cx="464.76" cy="334.65" r="3"/><path d="M460.26 330.15l9 9M460.26 339.15l9 -9" stroke="#000" stroke-width="2.4"/></g><g opacity="0.47"><circle cx="477.6" cy="347.18" r="3"/><path d="M473.1 342.68l9 9M473.1 351.68l9 -9" stroke="#000" stroke-width="2.4"/></g><g opacity="0.44"><circle cx="490.44" cy="359.7" r="3"/><path d="M485.94 355.2l9 9M485.94 364.2l9 -9" stroke="#000" stroke-width="2.4"/></g><g opacity="0.41"><circle cx="503.28" cy="372.23" r="3"/><path d="M498.78 367.73l9 9M498.78 376.73l9 -9" stroke="#000" stroke-width="2.4"/></g><g opacity="0.38"><circle cx="516.12" cy="384.75" r="3"/><path d="M511.62 380.25l9 9M511.62 389.25l9 -9" stroke="#000" stroke-width="2.4"/></g><g opacity="0.35"><circle cx="528.96" cy="397.28" r="3"/><path d="M524.46 392.78l9 9M524.46 401.78l9 -9" stroke="#000" stroke-width="2.4"/></g><g opacity="0.32"><circle cx="541.8" cy="409.8" r="3"/><path d="M537.3 405.3l9 9M537.3 414.3l9 -9" stroke="#000" stroke-width="2.4"/></g><g opacity="0.35"><circle cx="471.18" cy="391.01" r="3"/><path d="M466.68 386.51l9 9M466.68 395.51l9 -9" stroke="#000" stroke-width="2.4"/></g></g>
<defs><linearGradient id="ufe" gradientUnits="userSpaceOnUse" x1="413.4" y1="409.8" x2="541.8" y2="284.55"><stop offset="0" stop-color="#fff" stop-opacity="0"/><stop offset="0.46" stop-color="#fff" stop-opacity="0"/><stop offset="0.56" stop-color="#fff" stop-opacity="0.3"/><stop offset="0.65" stop-color="#fff" stop-opacity="0.5"/><stop offset="1" stop-color="#fff" stop-opacity="0.5"/></linearGradient></defs>
<rect x="413.4" y="283.55" width="129.4" height="126.25" fill="url(#ufe)"/>
<defs><radialGradient id="fde" gradientUnits="userSpaceOnUse" cx="413.4" cy="409.8" r="128.4" gradientTransform="translate(413.4 409.8) scale(1 0.9755) translate(-413.4 -409.8)"><stop offset="0.85" stop-color="#fff" stop-opacity="0"/><stop offset="0.97" stop-color="#fff" stop-opacity="0.3"/><stop offset="1" stop-color="#fff" stop-opacity="0.3"/></radialGradient></defs>
<rect x="413.4" y="283.55" width="129.4" height="126.25" fill="url(#fde)"/>
<path d="M538.86 388.22A127.4 124.25 0 0 0 486.47 308.02" stroke="#000" stroke-width="2.5" fill="none" opacity="0.2" filter="url(#rbl)"/>
<path d="M528.86 357.29A127.4 124.25 0 0 0 503.49 321.94" stroke="#000" stroke-width="2.5" fill="none" opacity="0.2" filter="url(#rbl)"/>
</g>
<path d="M52.6 283.25V410.2H182.2" stroke="#000" stroke-width="1.9" fill="none"/>
<path d="M52.6 409.4h-4M52.9 410.2v4.2M52.6 384.35h-4M78.58 410.2v4.2M52.6 359.3h-4M104.26 410.2v4.2M52.6 334.25h-4M129.94 410.2v4.2M52.6 309.2h-4M155.62 410.2v4.2M52.6 284.15h-4M181.3 410.2v4.2" stroke="#000" stroke-width="1.7" fill="none"/>
<path d="M224.4 283.45V410.4H354" stroke="#000" stroke-width="1.9" fill="none"/>
<path d="M224.4 409.6h-4M224.7 410.4v4.2M224.4 384.55h-4M250.38 410.4v4.2M224.4 359.5h-4M276.06 410.4v4.2M224.4 334.45h-4M301.74 410.4v4.2M224.4 309.4h-4M327.42 410.4v4.2M224.4 284.35h-4M353.1 410.4v4.2" stroke="#000" stroke-width="1.7" fill="none"/>
<path d="M413.1 283.65V410.6H542.7" stroke="#000" stroke-width="1.9" fill="none"/>
<path d="M413.1 409.8h-4M413.4 410.6v4.2M413.1 384.75h-4M439.08 410.6v4.2M413.1 359.7h-4M464.76 410.6v4.2M413.1 334.65h-4M490.44 410.6v4.2M413.1 309.6h-4M516.12 410.6v4.2M413.1 284.55h-4M541.8 410.6v4.2" stroke="#000" stroke-width="1.7" fill="none"/>
<g font-family="Liberation Sans, Arial, sans-serif" font-size="10.5" fill="#1a1a1a" stroke="#1a1a1a" stroke-width="0.15">
<text x="280.7" y="232" text-anchor="middle">−5</text>
<text x="300.3" y="232" text-anchor="middle">−4</text>
<text x="319.9" y="232" text-anchor="middle">−3</text>
<text x="339.5" y="232" text-anchor="middle">−2</text>
<text x="359.1" y="232" text-anchor="middle">−1</text>
<text x="379" y="232" text-anchor="middle">0</text>
<text x="398.6" y="232" text-anchor="middle">1</text>
<text x="418.2" y="232" text-anchor="middle">2</text>
<text x="437.8" y="232" text-anchor="middle">3</text>
<text x="457.4" y="232" text-anchor="middle">4</text>
<text x="477" y="232" text-anchor="middle">5</text>
<text x="379" y="243" text-anchor="middle"><tspan font-style="italic">h</tspan>00</text>
<text x="538.4" y="34.4">4</text>
<text x="528.73" y="55.6">3</text>
<text x="519.05" y="76.8">2</text>
<text x="509.38" y="98">1</text>
<text x="499.7" y="119.2">0</text>
<text x="486.72" y="140.4">−1</text>
<text x="477.05" y="161.6">−2</text>
<text x="467.37" y="182.8">−3</text>
<text x="457.7" y="204">−4</text>
<text x="512" y="123">00<tspan font-style="italic">l</tspan></text>
</g>
<g font-family="Liberation Sans, Arial, sans-serif" font-size="13.5" fill="#111" stroke="#111" stroke-width="0.25">
<text x="45.7" y="414.25" text-anchor="end">0</text>
<text x="52.1" y="426.6" text-anchor="middle">0</text>
<text x="45.7" y="389.65" text-anchor="end">1</text>
<text x="77.78" y="426.6" text-anchor="middle">1</text>
<text x="45.7" y="364.05" text-anchor="end">2</text>
<text x="103.46" y="426.6" text-anchor="middle">2</text>
<text x="45.7" y="338.35" text-anchor="end">3</text>
<text x="129.14" y="426.6" text-anchor="middle">3</text>
<text x="45.7" y="313.35" text-anchor="end">4</text>
<text x="154.82" y="426.6" text-anchor="middle">4</text>
<text x="45.7" y="286.75" text-anchor="end">5</text>
<text x="180.5" y="426.6" text-anchor="middle">5</text>
<text x="117.1" y="442.7" text-anchor="middle" font-size="14"><tspan font-style="italic">h</tspan>01</text>
<text transform="translate(23.1 344.2) rotate(90)" text-anchor="middle" font-size="14">0<tspan font-style="italic">k</tspan>1</text>
<text x="217.5" y="414.45" text-anchor="end">0</text>
<text x="223.9" y="426.8" text-anchor="middle">0</text>
<text x="217.5" y="389.85" text-anchor="end">1</text>
<text x="249.58" y="426.8" text-anchor="middle">1</text>
<text x="217.5" y="364.25" text-anchor="end">2</text>
<text x="275.26" y="426.8" text-anchor="middle">2</text>
<text x="217.5" y="338.55" text-anchor="end">3</text>
<text x="300.94" y="426.8" text-anchor="middle">3</text>
<text x="217.5" y="313.55" text-anchor="end">4</text>
<text x="326.62" y="426.8" text-anchor="middle">4</text>
<text x="217.5" y="286.95" text-anchor="end">5</text>
<text x="352.3" y="426.8" text-anchor="middle">5</text>
<text x="288.9" y="442.9" text-anchor="middle" font-size="14"><tspan font-style="italic">h</tspan>01</text>
<text transform="translate(194.9 344.4) rotate(90)" text-anchor="middle" font-size="14">0<tspan font-style="italic">k</tspan>1</text>
<text x="406.2" y="414.65" text-anchor="end">0</text>
<text x="412.6" y="427" text-anchor="middle">0</text>
<text x="406.2" y="390.05" text-anchor="end">1</text>
<text x="438.28" y="427" text-anchor="middle">1</text>
<text x="406.2" y="364.45" text-anchor="end">2</text>
<text x="463.96" y="427" text-anchor="middle">2</text>
<text x="406.2" y="338.75" text-anchor="end">3</text>
<text x="489.64" y="427" text-anchor="middle">3</text>
<text x="406.2" y="313.75" text-anchor="end">4</text>
<text x="515.32" y="427" text-anchor="middle">4</text>
<text x="406.2" y="287.15" text-anchor="end">5</text>
<text x="541" y="427" text-anchor="middle">5</text>
<text x="477.6" y="443.1" text-anchor="middle" font-size="14"><tspan font-style="italic">h</tspan>01</text>
<text transform="translate(383.6 344.6) rotate(90)" text-anchor="middle" font-size="14">0<tspan font-style="italic">k</tspan>1</text>
</g>
<g font-family="Liberation Serif, Times New Roman, serif" font-size="29" fill="#000">
<text x="3" y="44.2">(a)</text>
<text x="263.8" y="44">(b)</text>
<text x="2.4" y="294.8">(c)</text>
<text x="171.4" y="294.8">(d)</text>
<text x="363" y="295.9">(e)</text>
</g>
</svg>
</body></html>
